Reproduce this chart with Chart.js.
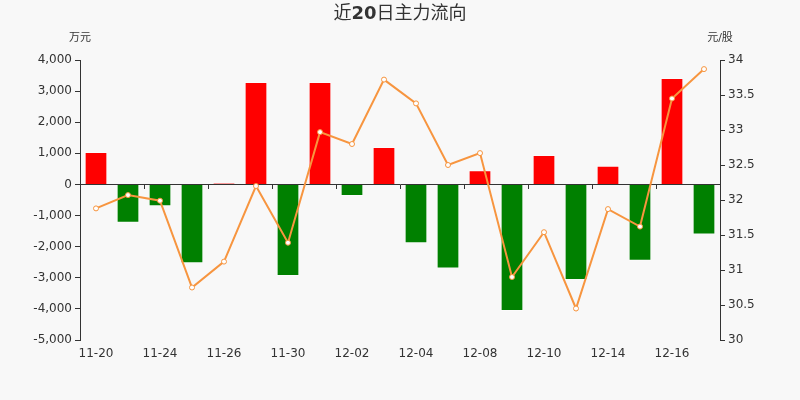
<!DOCTYPE html>
<html>
<head>
<meta charset="utf-8">
<script src="https://cdn.jsdelivr.net/npm/chart.js@4/dist/chart.umd.min.js"></script>
<style>
html,body{margin:0;padding:0;background:#f8f8f8;}
#wrap{width:800px;height:400px;position:relative;}
</style>
</head>
<body>
<div id="wrap"><canvas id="c" width="800" height="400"></canvas></div>
<script>
const titleParts = [['近', false], ['20', true], ['日主力流向', false]];
const leftUnit = '万元';
const rightUnit = '元/股';
const dates = ['11-20','11-23','11-24','11-25','11-26','11-27','11-30','12-01','12-02','12-03',
               '12-04','12-07','12-08','12-09','12-10','12-11','12-14','12-15','12-16','12-17'];
const mainFlow = [1040,-1230,-700,-2530,40,3290,-2940,3290,-370,1200,
                  -1890,-2700,460,-4070,950,-3070,600,-2450,3420,-1610];
const price = [31.88,32.07,31.99,30.75,31.12,32.20,31.39,32.97,32.80,33.72,
               33.38,32.50,32.67,30.90,31.54,30.45,31.87,31.62,33.45,33.87];

const FONT = "'DejaVu Sans','Noto Sans CJK SC',sans-serif";
const TXT = '#333';

const decor = {
  id: 'decor',
  beforeDraw(chart) {
    const ctx = chart.ctx;
    ctx.save();
    ctx.fillStyle = '#f8f8f8';
    ctx.fillRect(0, 0, chart.width, chart.height);
    ctx.restore();
  },
  afterDraw(chart) {
    const ctx = chart.ctx;
    const a = chart.chartArea;
    ctx.save();
    ctx.fillStyle = TXT;
    ctx.textBaseline = 'middle';
    // title, drawn in parts so the digits are bold
    const fontOf = b => (b ? 'bold ' : '') + '18px ' + FONT;
    let total = 0;
    titleParts.forEach(([t, b]) => { ctx.font = fontOf(b); total += ctx.measureText(t).width; });
    let x = 400 - total / 2;
    ctx.textAlign = 'left';
    titleParts.forEach(([t, b]) => {
      ctx.font = fontOf(b);
      ctx.fillText(t, x, 14);
      x += ctx.measureText(t).width;
    });
    ctx.textAlign = 'center';
    ctx.font = '11px ' + FONT;
    ctx.fillText(leftUnit, a.left, 38);
    ctx.fillText(rightUnit, a.right, 38);
    ctx.restore();
  }
};

new Chart(document.getElementById('c'), {
  data: {
    labels: dates,
    datasets: [
      {
        type: 'line',
        data: price,
        yAxisID: 'y1',
        xAxisID: 'x',
        borderColor: '#f7953f',
        borderWidth: 2,
        pointRadius: 2.5,
        pointBorderWidth: 1,
        pointBackgroundColor: '#ffffff',
        pointBorderColor: '#f7953f',
        tension: 0,
        order: 0
      },
      {
        type: 'bar',
        data: mainFlow,
        yAxisID: 'y',
        xAxisID: 'x',
        backgroundColor: ctx => (ctx.raw >= 0 ? '#ff0000' : '#008000'),
        borderColor: 'rgba(255,255,255,0.45)',
        borderWidth: 1,
        categoryPercentage: 1,
        barPercentage: 0.71,
        order: 1
      }
    ]
  },
  options: {
    responsive: false,
    animation: false,
    devicePixelRatio: 1,
    layout: { padding: { top: 60, left: 0, right: 0, bottom: 0 } },
    plugins: { legend: { display: false }, title: { display: false }, tooltip: { enabled: false } },
    scales: {
      x: {
        type: 'category',
        position: 'bottom',
        offset: true,
        border: { display: false },
        grid: { display: false, drawTicks: false },
        ticks: {
          autoSkip: false,
          maxRotation: 0,
          padding: 7,
          color: TXT,
          font: { family: FONT, size: 12 },
          callback: function(v, i) { return i % 2 === 0 ? this.getLabelForValue(v) : ''; }
        },
        afterFit: s => { s.height = 60; }
      },
      x2: {
        type: 'category',
        labels: dates,
        position: { y: 0 },
        offset: true,
        border: { display: true, color: TXT, width: 1 },
        grid: {
          offset: true,
          drawOnChartArea: false,
          drawTicks: true,
          tickLength: 4,
          color: ctx => (ctx.index % 2 === 0 ? TXT : 'rgba(0,0,0,0)')
        },
        ticks: { display: false, autoSkip: false }
      },
      y: {
        position: 'left',
        min: -5000,
        max: 4000,
        border: { display: true, color: TXT, width: 1 },
        grid: { drawOnChartArea: false, drawTicks: true, tickLength: 5, color: TXT },
        ticks: { stepSize: 1000, padding: 3, color: TXT, font: { family: FONT, size: 12 } },
        afterFit: s => { s.width = 80; }
      },
      y1: {
        position: 'right',
        min: 30,
        max: 34,
        border: { display: true, color: TXT, width: 1 },
        grid: { drawOnChartArea: false, drawTicks: true, tickLength: 5, color: TXT },
        ticks: {
          stepSize: 0.5, padding: 3, color: TXT, font: { family: FONT, size: 12 },
          callback: v => String(Math.round(v * 10) / 10)
        },
        afterFit: s => { s.width = 80; }
      }
    }
  },
  plugins: [decor]
});
</script>
</body>
</html>
